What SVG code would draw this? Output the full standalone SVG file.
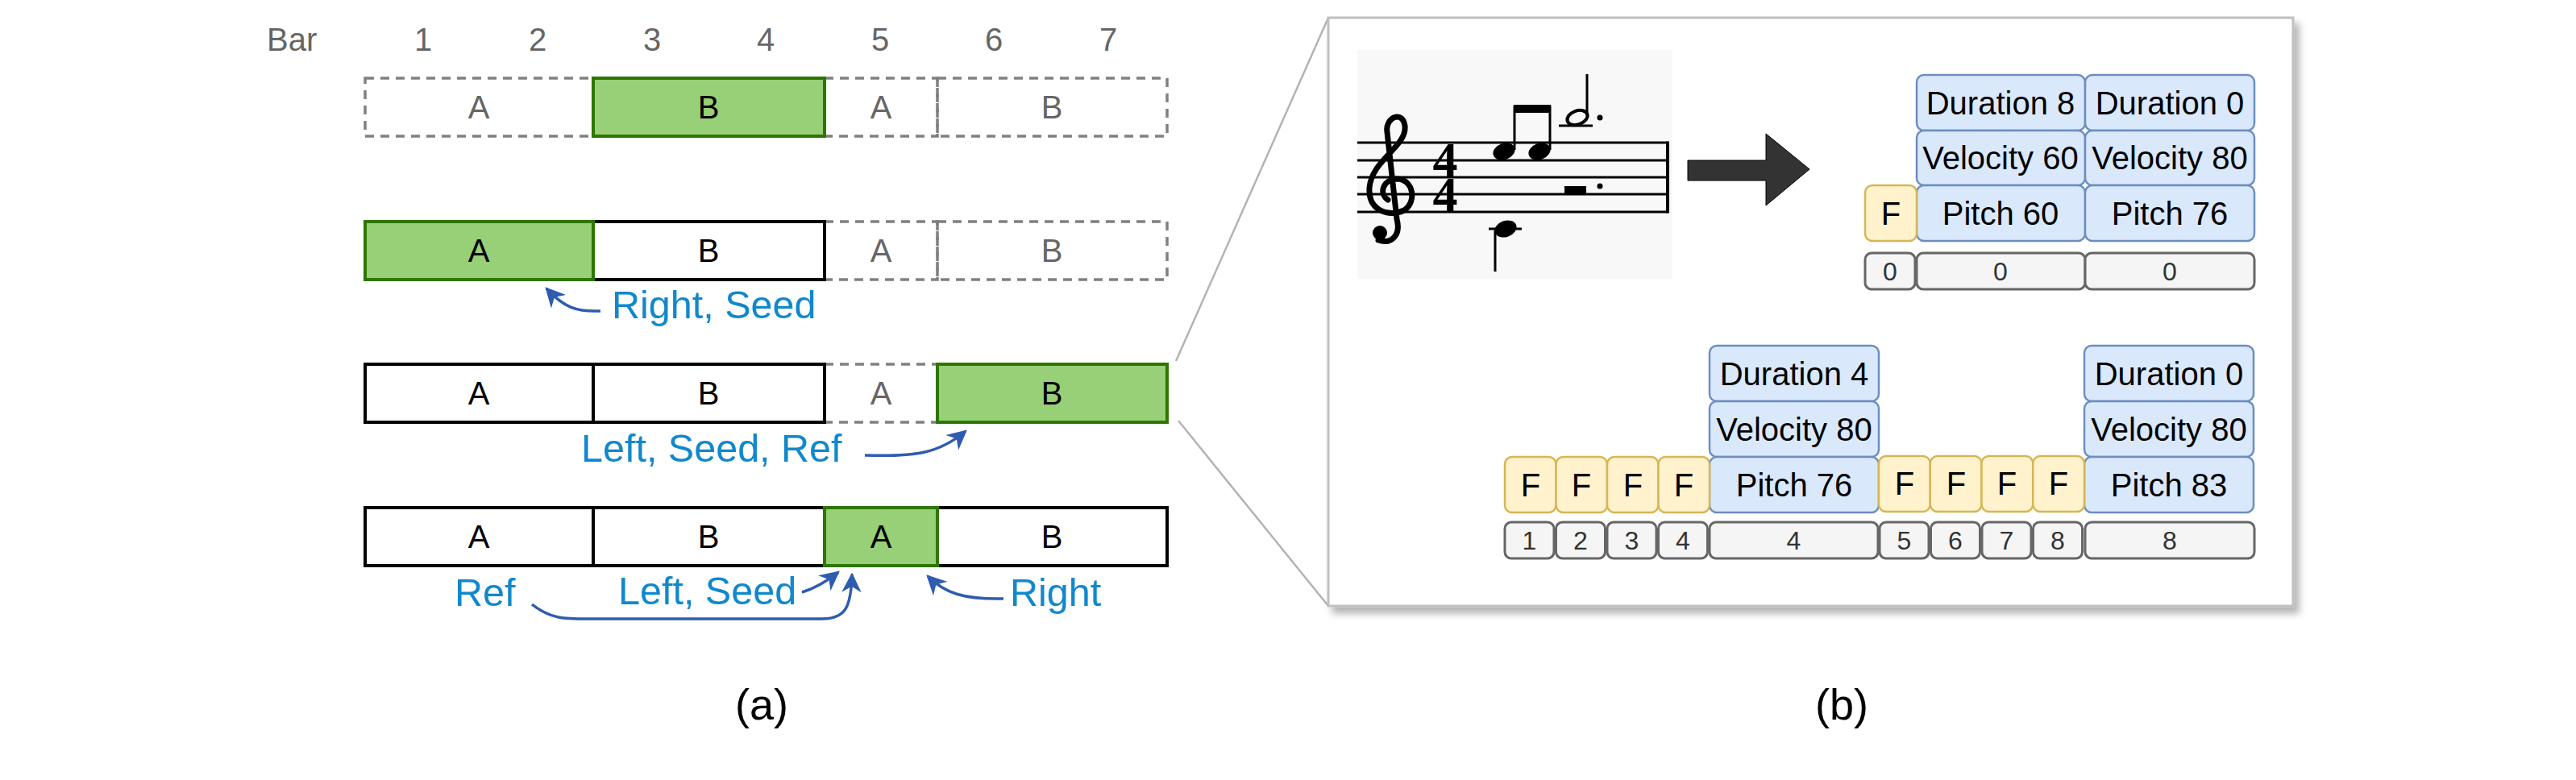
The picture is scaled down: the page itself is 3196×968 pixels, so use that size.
<svg xmlns="http://www.w3.org/2000/svg" width="3196" height="968" viewBox="0 0 3196 968">
<defs>
<style>
text{font-family:"Liberation Sans",Arial,sans-serif}
.bar{font-size:40px;fill:#666;text-anchor:middle}
.lbl{font-size:40px;fill:#000;text-anchor:middle}
.dim{fill:#666}
.blue{font-size:48.5px;fill:#1188cc}
.solid{fill:#fff;stroke:#000;stroke-width:4}
.dash{fill:none;stroke:#808080;stroke-width:3.5;stroke-dasharray:11 8}
.green{fill:#97d077;stroke:#2d7600;stroke-width:4}
.arr{fill:none;stroke:#2f5cb0;stroke-width:3.5;marker-end:url(#ah)}
.cell{fill:#dae8fc;stroke:#6c8ebf;stroke-width:2.5}
.f{fill:#fff2cc;stroke:#d6b656;stroke-width:2.5}
.idx{fill:#f5f5f5;stroke:#666;stroke-width:3}
.ct{font-size:40px;fill:#000;text-anchor:middle}
.it{font-size:32px;fill:#333;text-anchor:middle}
.zoomline{stroke:#b3b3b3;stroke-width:2.5;fill:none}
.staff{stroke:#000;stroke-width:3}
</style>
<marker id="ah" viewBox="0 0 10 10" refX="9" refY="5" markerWidth="7" markerHeight="7" orient="auto" markerUnits="strokeWidth">
<path d="M0,0 L10,5 L0,10 L3,5 z" fill="#2f5cb0"/>
</marker>
<filter id="shadow" x="-5%" y="-5%" width="115%" height="120%">
<feDropShadow dx="6" dy="8" stdDeviation="5" flood-color="#000" flood-opacity="0.3"/>
</filter>
</defs>
<rect width="3196" height="968" fill="#fff"/>

<g id="bar-header">
<text x="331" y="63" style="font-size:40px;fill:#666">Bar</text>
<text class="bar" x="525" y="63">1</text>
<text class="bar" x="667" y="63">2</text>
<text class="bar" x="809" y="63">3</text>
<text class="bar" x="950" y="63">4</text>
<text class="bar" x="1092" y="63">5</text>
<text class="bar" x="1233" y="63">6</text>
<text class="bar" x="1375" y="63">7</text>
</g>

<g id="row1">
<rect class="dash" x="453" y="97" width="283" height="72"/>
<rect class="dash" x="1023" y="97" width="140" height="72"/>
<rect class="dash" x="1163" y="97" width="285" height="72"/>
<rect class="green" x="736" y="97" width="287" height="72"/>
<text class="lbl dim" x="594" y="147">A</text>
<text class="lbl" x="879" y="147">B</text>
<text class="lbl dim" x="1093" y="147">A</text>
<text class="lbl dim" x="1305" y="147">B</text>
</g>

<g id="row2">
<rect class="dash" x="1023" y="275" width="140" height="72"/>
<rect class="dash" x="1163" y="275" width="285" height="72"/>
<rect class="solid" x="736" y="275" width="287" height="72"/>
<rect class="green" x="453" y="275" width="283" height="72"/>
<text class="lbl" x="594" y="325">A</text>
<text class="lbl" x="879" y="325">B</text>
<text class="lbl dim" x="1093" y="325">A</text>
<text class="lbl dim" x="1305" y="325">B</text>
</g>

<g id="row3">
<rect class="dash" x="1023" y="452" width="140" height="72"/>
<rect class="solid" x="453" y="452" width="283" height="72"/>
<rect class="solid" x="736" y="452" width="287" height="72"/>
<rect class="green" x="1163" y="452" width="285" height="72"/>
<text class="lbl" x="594" y="502">A</text>
<text class="lbl" x="879" y="502">B</text>
<text class="lbl dim" x="1093" y="502">A</text>
<text class="lbl" x="1305" y="502">B</text>
</g>

<g id="row4">
<rect class="solid" x="453" y="630" width="283" height="72"/>
<rect class="solid" x="736" y="630" width="287" height="72"/>
<rect class="solid" x="1163" y="630" width="285" height="72"/>
<rect class="green" x="1023" y="630" width="140" height="72"/>
<text class="lbl" x="594" y="680">A</text>
<text class="lbl" x="879" y="680">B</text>
<text class="lbl" x="1093" y="680">A</text>
<text class="lbl" x="1305" y="680">B</text>
</g>

<g id="labels">
<text class="blue" x="759" y="395">Right, Seed</text>
<text class="blue" x="721" y="573">Left, Seed, Ref</text>
<text class="blue" x="564" y="752">Ref</text>
<text class="blue" x="767" y="750">Left, Seed</text>
<text class="blue" x="1253" y="752">Right</text>
</g>

<g id="connectors">
<path class="arr" d="M 745 386 C 715 387, 700 382, 678 358"/>
<path class="arr" d="M 1073 565 C 1135 567, 1165 563, 1198 535"/>
<path class="arr" d="M 995 735 C 1012 730, 1025 722, 1040 710"/>
<path class="arr" d="M 660 750 C 685 770, 705 768, 740 768 L 1020 768 C 1048 768, 1056 755, 1057 713"/>
<path class="arr" d="M 1245 743 C 1195 744, 1172 736, 1151 715"/>
<line class="zoomline" x1="1459" y1="448" x2="1648" y2="22"/>
<line class="zoomline" x1="1462" y1="522" x2="1648" y2="752"/>
</g>

<g id="panel">
<rect x="1648" y="22" width="1197" height="730" fill="#fff" stroke="#c0c0c0" stroke-width="3" filter="url(#shadow)"/>
</g>

<g id="score">
<rect x="1684" y="62" width="391" height="284" fill="#f8f8f8"/>
<line class="staff" x1="1684" y1="177" x2="2069" y2="177"/>
<line class="staff" x1="1684" y1="199" x2="2069" y2="199"/>
<line class="staff" x1="1684" y1="220" x2="2069" y2="220"/>
<line class="staff" x1="1684" y1="241" x2="2069" y2="241"/>
<line class="staff" x1="1684" y1="263" x2="2069" y2="263"/>
<line x1="2069" y1="175.5" x2="2069" y2="264.5" stroke="#000" stroke-width="4"/>
<path d="M 1710 298 C 1728 304, 1738 290, 1733 272 L 1721 164 C 1718 146, 1740 136, 1743 156 C 1746 182, 1702 198, 1699 233 C 1697 262, 1724 270, 1742 261 C 1758 251, 1754 223, 1734 222 C 1716 222, 1710 240, 1722 248" fill="none" stroke="#000" stroke-width="7" stroke-linecap="round" stroke-linejoin="round"/>
<circle cx="1712" cy="289" r="9" fill="#000"/>
<text style="font-family:'Liberation Serif',serif;font-weight:bold;font-size:62px;text-anchor:middle"><tspan x="1793" y="219">4</tspan><tspan x="1793" y="262">4</tspan></text>
<ellipse cx="1866" cy="188" rx="14" ry="10" transform="rotate(-20 1866 188)" fill="#000"/>
<ellipse cx="1910" cy="188" rx="14" ry="10" transform="rotate(-20 1910 188)" fill="#000"/>
<line x1="1879" y1="186" x2="1879" y2="131" stroke="#000" stroke-width="3"/>
<line x1="1923" y1="186" x2="1923" y2="131" stroke="#000" stroke-width="3"/>
<rect x="1878" y="130" width="46" height="10" fill="#000"/>
<line x1="1934" y1="156" x2="1976" y2="156" stroke="#000" stroke-width="3"/>
<ellipse cx="1957" cy="146" rx="13" ry="8.5" transform="rotate(-20 1957 146)" fill="none" stroke="#000" stroke-width="4"/>
<line x1="1969" y1="143" x2="1969" y2="92" stroke="#000" stroke-width="3"/>
<circle cx="1985" cy="146" r="3.5" fill="#000"/>
<rect x="1941" y="231" width="27" height="10" fill="#000"/>
<circle cx="1985" cy="231" r="3.5" fill="#000"/>
<line x1="1847" y1="284" x2="1888" y2="284" stroke="#000" stroke-width="3"/>
<ellipse cx="1868" cy="284" rx="14" ry="10" transform="rotate(-20 1868 284)" fill="#000"/>
<line x1="1855" y1="286" x2="1855" y2="337" stroke="#000" stroke-width="3"/>
</g>

<g id="big-arrow">
<path d="M 2094 199 L 2191 199 L 2191 166 L 2245 210 L 2191 255 L 2191 224 L 2094 224 Z" fill="#333" stroke="#000" stroke-width="1"/>
</g>

<g id="top-sequence">
<rect class="cell" x="2378" y="93" width="209" height="69" rx="9"/>
<rect class="cell" x="2587" y="93" width="210" height="69" rx="9"/>
<rect class="cell" x="2378" y="162" width="209" height="68" rx="9"/>
<rect class="cell" x="2587" y="162" width="210" height="68" rx="9"/>
<rect class="cell" x="2378" y="230" width="209" height="69" rx="9"/>
<rect class="cell" x="2587" y="230" width="210" height="69" rx="9"/>
<rect class="f" x="2314" y="230" width="64" height="69" rx="9"/>
<text class="ct" x="2482" y="142">Duration 8</text>
<text class="ct" x="2692" y="142">Duration 0</text>
<text class="ct" x="2482" y="210">Velocity 60</text>
<text class="ct" x="2692" y="210">Velocity 80</text>
<text class="ct" x="2482" y="279">Pitch 60</text>
<text class="ct" x="2692" y="279">Pitch 76</text>
<text class="ct" x="2346" y="279">F</text>
<rect class="idx" x="2314" y="314" width="62" height="45" rx="8"/>
<rect class="idx" x="2378" y="314" width="209" height="45" rx="8"/>
<rect class="idx" x="2587" y="314" width="210" height="45" rx="8"/>
<text class="it" x="2345" y="348">0</text>
<text class="it" x="2482" y="348">0</text>
<text class="it" x="2692" y="348">0</text>
</g>

<g id="bottom-sequence">
<rect class="cell" x="2121" y="429" width="210" height="69" rx="9"/>
<rect class="cell" x="2121" y="498" width="210" height="69" rx="9"/>
<rect class="cell" x="2121" y="567" width="210" height="69" rx="9"/>
<rect class="cell" x="2586" y="429" width="210" height="69" rx="9"/>
<rect class="cell" x="2586" y="498" width="210" height="69" rx="9"/>
<rect class="cell" x="2586" y="567" width="210" height="69" rx="9"/>
<rect class="f" x="1867" y="567" width="63.5" height="69" rx="9"/>
<rect class="f" x="1930.5" y="567" width="63.5" height="69" rx="9"/>
<rect class="f" x="1994" y="567" width="63.5" height="69" rx="9"/>
<rect class="f" x="2057.5" y="567" width="63.5" height="69" rx="9"/>
<rect class="f" x="2331" y="566" width="63.75" height="69" rx="9"/>
<rect class="f" x="2394.75" y="566" width="63.75" height="69" rx="9"/>
<rect class="f" x="2458.5" y="566" width="63.75" height="69" rx="9"/>
<rect class="f" x="2522.25" y="566" width="63.75" height="69" rx="9"/>
<text class="ct" x="2226" y="478">Duration 4</text>
<text class="ct" x="2226" y="547">Velocity 80</text>
<text class="ct" x="2226" y="616">Pitch 76</text>
<text class="ct" x="2691" y="478">Duration 0</text>
<text class="ct" x="2691" y="547">Velocity 80</text>
<text class="ct" x="2691" y="616">Pitch 83</text>
<text class="ct" x="1899" y="616">F</text>
<text class="ct" x="1962" y="616">F</text>
<text class="ct" x="2026" y="616">F</text>
<text class="ct" x="2089" y="616">F</text>
<text class="ct" x="2363" y="614">F</text>
<text class="ct" x="2427" y="614">F</text>
<text class="ct" x="2490" y="614">F</text>
<text class="ct" x="2554" y="614">F</text>
<rect class="idx" x="1867" y="648" width="61" height="45" rx="8"/>
<rect class="idx" x="1930.5" y="648" width="61" height="45" rx="8"/>
<rect class="idx" x="1994" y="648" width="61" height="45" rx="8"/>
<rect class="idx" x="2057.5" y="648" width="61" height="45" rx="8"/>
<rect class="idx" x="2121" y="648" width="209" height="45" rx="8"/>
<rect class="idx" x="2332" y="648" width="61" height="45" rx="8"/>
<rect class="idx" x="2395.5" y="648" width="61" height="45" rx="8"/>
<rect class="idx" x="2459" y="648" width="61" height="45" rx="8"/>
<rect class="idx" x="2522.5" y="648" width="61" height="45" rx="8"/>
<rect class="idx" x="2587" y="648" width="210" height="45" rx="8"/>
<text class="it" x="1897.5" y="682">1</text>
<text class="it" x="1961" y="682">2</text>
<text class="it" x="2024.5" y="682">3</text>
<text class="it" x="2088" y="682">4</text>
<text class="it" x="2225.5" y="682">4</text>
<text class="it" x="2362.5" y="682">5</text>
<text class="it" x="2426" y="682">6</text>
<text class="it" x="2489.5" y="682">7</text>
<text class="it" x="2553" y="682">8</text>
<text class="it" x="2692" y="682">8</text>
</g>

<g id="captions">
<text x="945" y="893" style="font-size:54px;text-anchor:middle;fill:#000">(a)</text>
<text x="2285" y="893" style="font-size:54px;text-anchor:middle;fill:#000">(b)</text>
</g>
</svg>
